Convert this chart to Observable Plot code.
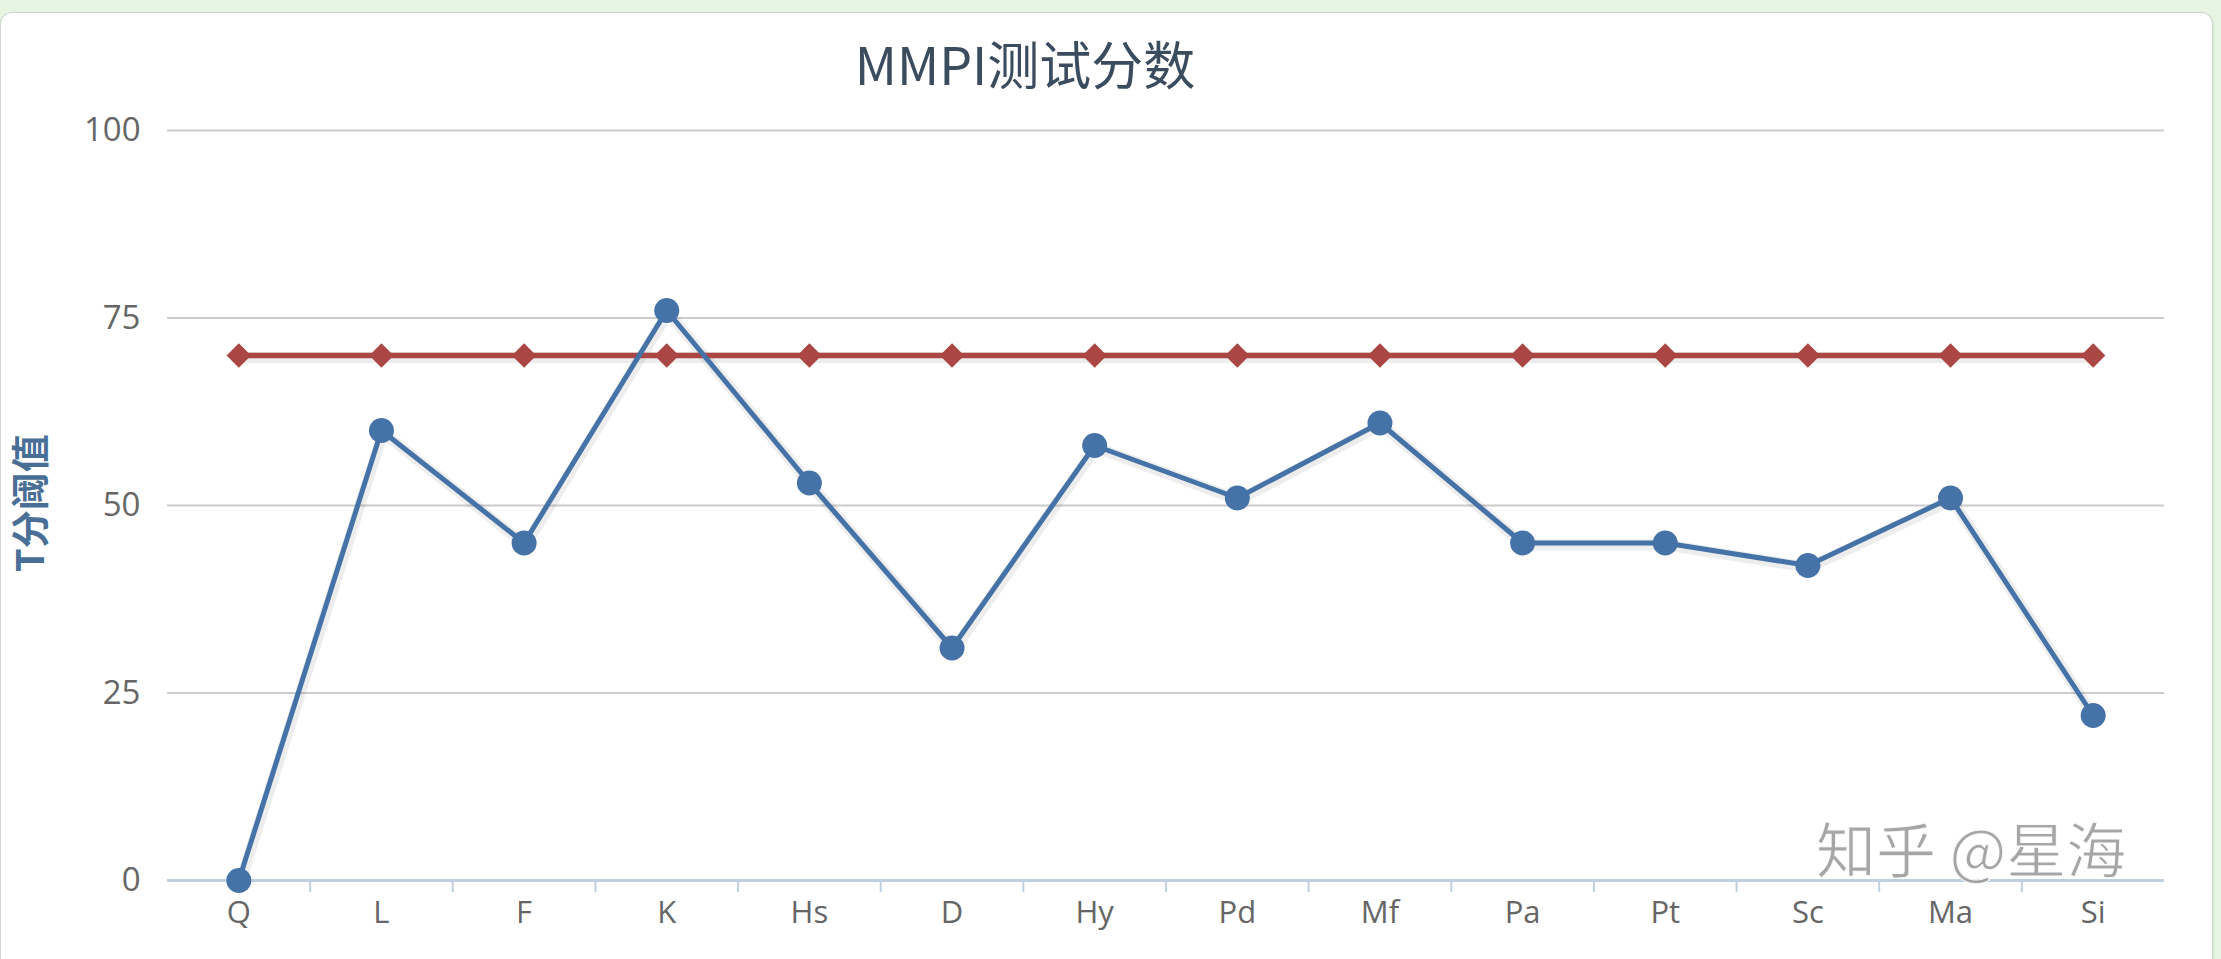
<!DOCTYPE html>
<html>
<head>
<meta charset="utf-8">
<script src="https://cdn.jsdelivr.net/npm/d3@7"></script>
<script src="https://cdn.jsdelivr.net/npm/@observablehq/plot@0.6"></script>
<style>
  html, body { margin: 0; padding: 0; }
  body { width: 2221px; height: 959px; background: #e6f6e2; position: relative; overflow: hidden; }
  #card { position: absolute; left: 0; top: 12px; width: 2213px; height: 980px; background: #fff;
          border: 1.5px solid #cfd6cf; border-radius: 12px; box-sizing: border-box; box-shadow: 0 1px 3px rgba(0,0,0,0.15); }
  #title { position: absolute; left: 1025px; top: 62px; transform: translate(-50%, -50%);
           font-family: "Noto Sans CJK SC", "Noto Sans", sans-serif; font-size: 52px; color: #3b4c5e; white-space: nowrap; }
  #ytitle { position: absolute; left: 28px; top: 503px; transform: translate(-50%, -50%) rotate(-90deg);
            font-family: "Noto Sans CJK SC", sans-serif; font-weight: bold; font-size: 38px; line-height: 1; color: #4a6f96; white-space: nowrap; }
  #chart { position: absolute; left: 0; top: 100px; }
  #wm { position: absolute; left: 1816px; top: 847px; transform: translateY(-50%);
        font-family: "Noto Sans CJK SC", sans-serif; font-size: 60px; line-height: 1; color: rgba(150,150,150,0.85);
        -webkit-text-stroke: 1px rgba(255,255,255,0.9); white-space: nowrap; z-index: 5; }
</style>
</head>
<body>
<div id="card"></div>
<div id="title">MMPI测试分数</div>
<div id="ytitle">T分阈值</div>
<div id="chart"></div>
<div id="wm">知乎 @星海</div>
<script>
const categories = ["Q", "L", "F", "K", "Hs", "D", "Hy", "Pd", "Mf", "Pa", "Pt", "Sc", "Ma", "Si"];
const scores = [0, 60, 45, 76, 53, 31, 58, 51, 61, 45, 45, 42, 51, 22];
const threshold = [70, 70, 70, 70, 70, 70, 70, 70, 70, 70, 70, 70, 70, 70];
const yTicks = [0, 25, 50, 75, 100];
const gridTicks = [25, 50, 75, 100];

const data = categories.map((c, i) => ({ i, c, score: scores[i], thr: threshold[i] }));
const boundaries = categories.slice(1).map((_, k) => k + 0.5);

const blue = "#4572A7";
const red = "#AA4643";

const chart = Plot.plot({
  width: 2221,
  height: 859,
  marginTop: 30,
  marginBottom: 79,
  marginLeft: 167,
  marginRight: 57,
  x: { domain: [-0.5, categories.length - 0.5], axis: null },
  y: { domain: [0, 100], axis: null },
  style: { background: "transparent", fontFamily: "'Open Sans', sans-serif", overflow: "visible" },
  marks: [
    Plot.ruleY(gridTicks, { stroke: "#cccccc", strokeWidth: 2 }),
    Plot.ruleY([0], { stroke: "#c0d0e0", strokeWidth: 3 }),
    Plot.ruleX(boundaries, { x: d => d, y1: 0, y2: 0, insetBottom: -12, stroke: "#c0d0e0", strokeWidth: 2 }),
    Plot.axisY(yTicks, { tickSize: 0, tickPadding: 27, fontSize: 33, color: "#666666", label: null, style: { letterSpacing: "2px" } }),
    Plot.axisX(data.map(d => d.i), { tickSize: 0, tickPadding: 20, fontSize: 31, color: "#666666", label: null, tickFormat: i => categories[i] }),
    // shadows
    Plot.line(data, { x: "i", y: "thr", dx: 1.5, dy: 2, stroke: "#000", strokeOpacity: 0.07, strokeWidth: 11, strokeLinejoin: "round" }),
    Plot.line(data, { x: "i", y: "score", dx: 1.5, dy: 2, stroke: "#000", strokeOpacity: 0.07, strokeWidth: 11, strokeLinejoin: "round" }),
    Plot.line(data, { x: "i", y: "thr", stroke: red, strokeWidth: 5.5, strokeLinejoin: "round" }),
    Plot.dot(data, { x: "i", y: "thr", symbol: "diamond2", r: 11, fill: red, stroke: "none" }),
    Plot.line(data, { x: "i", y: "score", stroke: blue, strokeWidth: 5, strokeLinejoin: "round" }),
    Plot.dot(data, { x: "i", y: "score", r: 12.5, fill: blue, stroke: "none" })
  ]
});
document.getElementById("chart").appendChild(chart);
</script>
</body>
</html>
